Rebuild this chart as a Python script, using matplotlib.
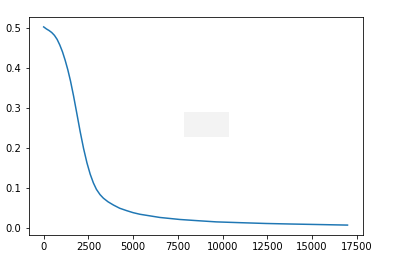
import matplotlib
matplotlib.use("Agg")
import matplotlib.pyplot as plt
from matplotlib.patches import Rectangle

steps = [0, 150, 300, 450, 600, 750, 900, 1050, 1200, 1350, 1500, 1670, 1850, 2040, 2230,
         2420, 2600, 2780, 2950, 3150, 3340, 3600, 3900, 4250, 4640, 5000, 5380, 5940,
         6500, 7610, 8600, 9650, 11000, 12440, 13800, 15220, 16990]
loss = [0.502, 0.497, 0.493, 0.488, 0.481, 0.471, 0.457, 0.440, 0.419, 0.395, 0.367, 0.330,
        0.287, 0.241, 0.199, 0.163, 0.135, 0.113, 0.097, 0.084, 0.075, 0.066, 0.058, 0.050,
        0.044, 0.039, 0.035, 0.031, 0.027, 0.022, 0.019, 0.016, 0.014, 0.012, 0.0107,
        0.0095, 0.008]

W, H = 398, 265
fig = plt.figure(figsize=(W / 72, H / 72), dpi=72)
ax = fig.add_axes([28.5 / W, (H - 235) / H, 334.2 / W, 218 / H])
ax.plot(steps, loss, color="#1f77b4", linewidth=1.5)
ax.set_xticks([0, 2500, 5000, 7500, 10000, 12500, 15000, 17500])
ax.set_yticks([0.0, 0.1, 0.2, 0.3, 0.4, 0.5])
ax.tick_params(labelsize=10)
ax.add_patch(Rectangle((0.465, 0.448), 0.135, 0.115, transform=ax.transAxes,
                       facecolor="#f3f3f3", edgecolor="none", zorder=3))
fig.savefig("out.png", dpi=72)
